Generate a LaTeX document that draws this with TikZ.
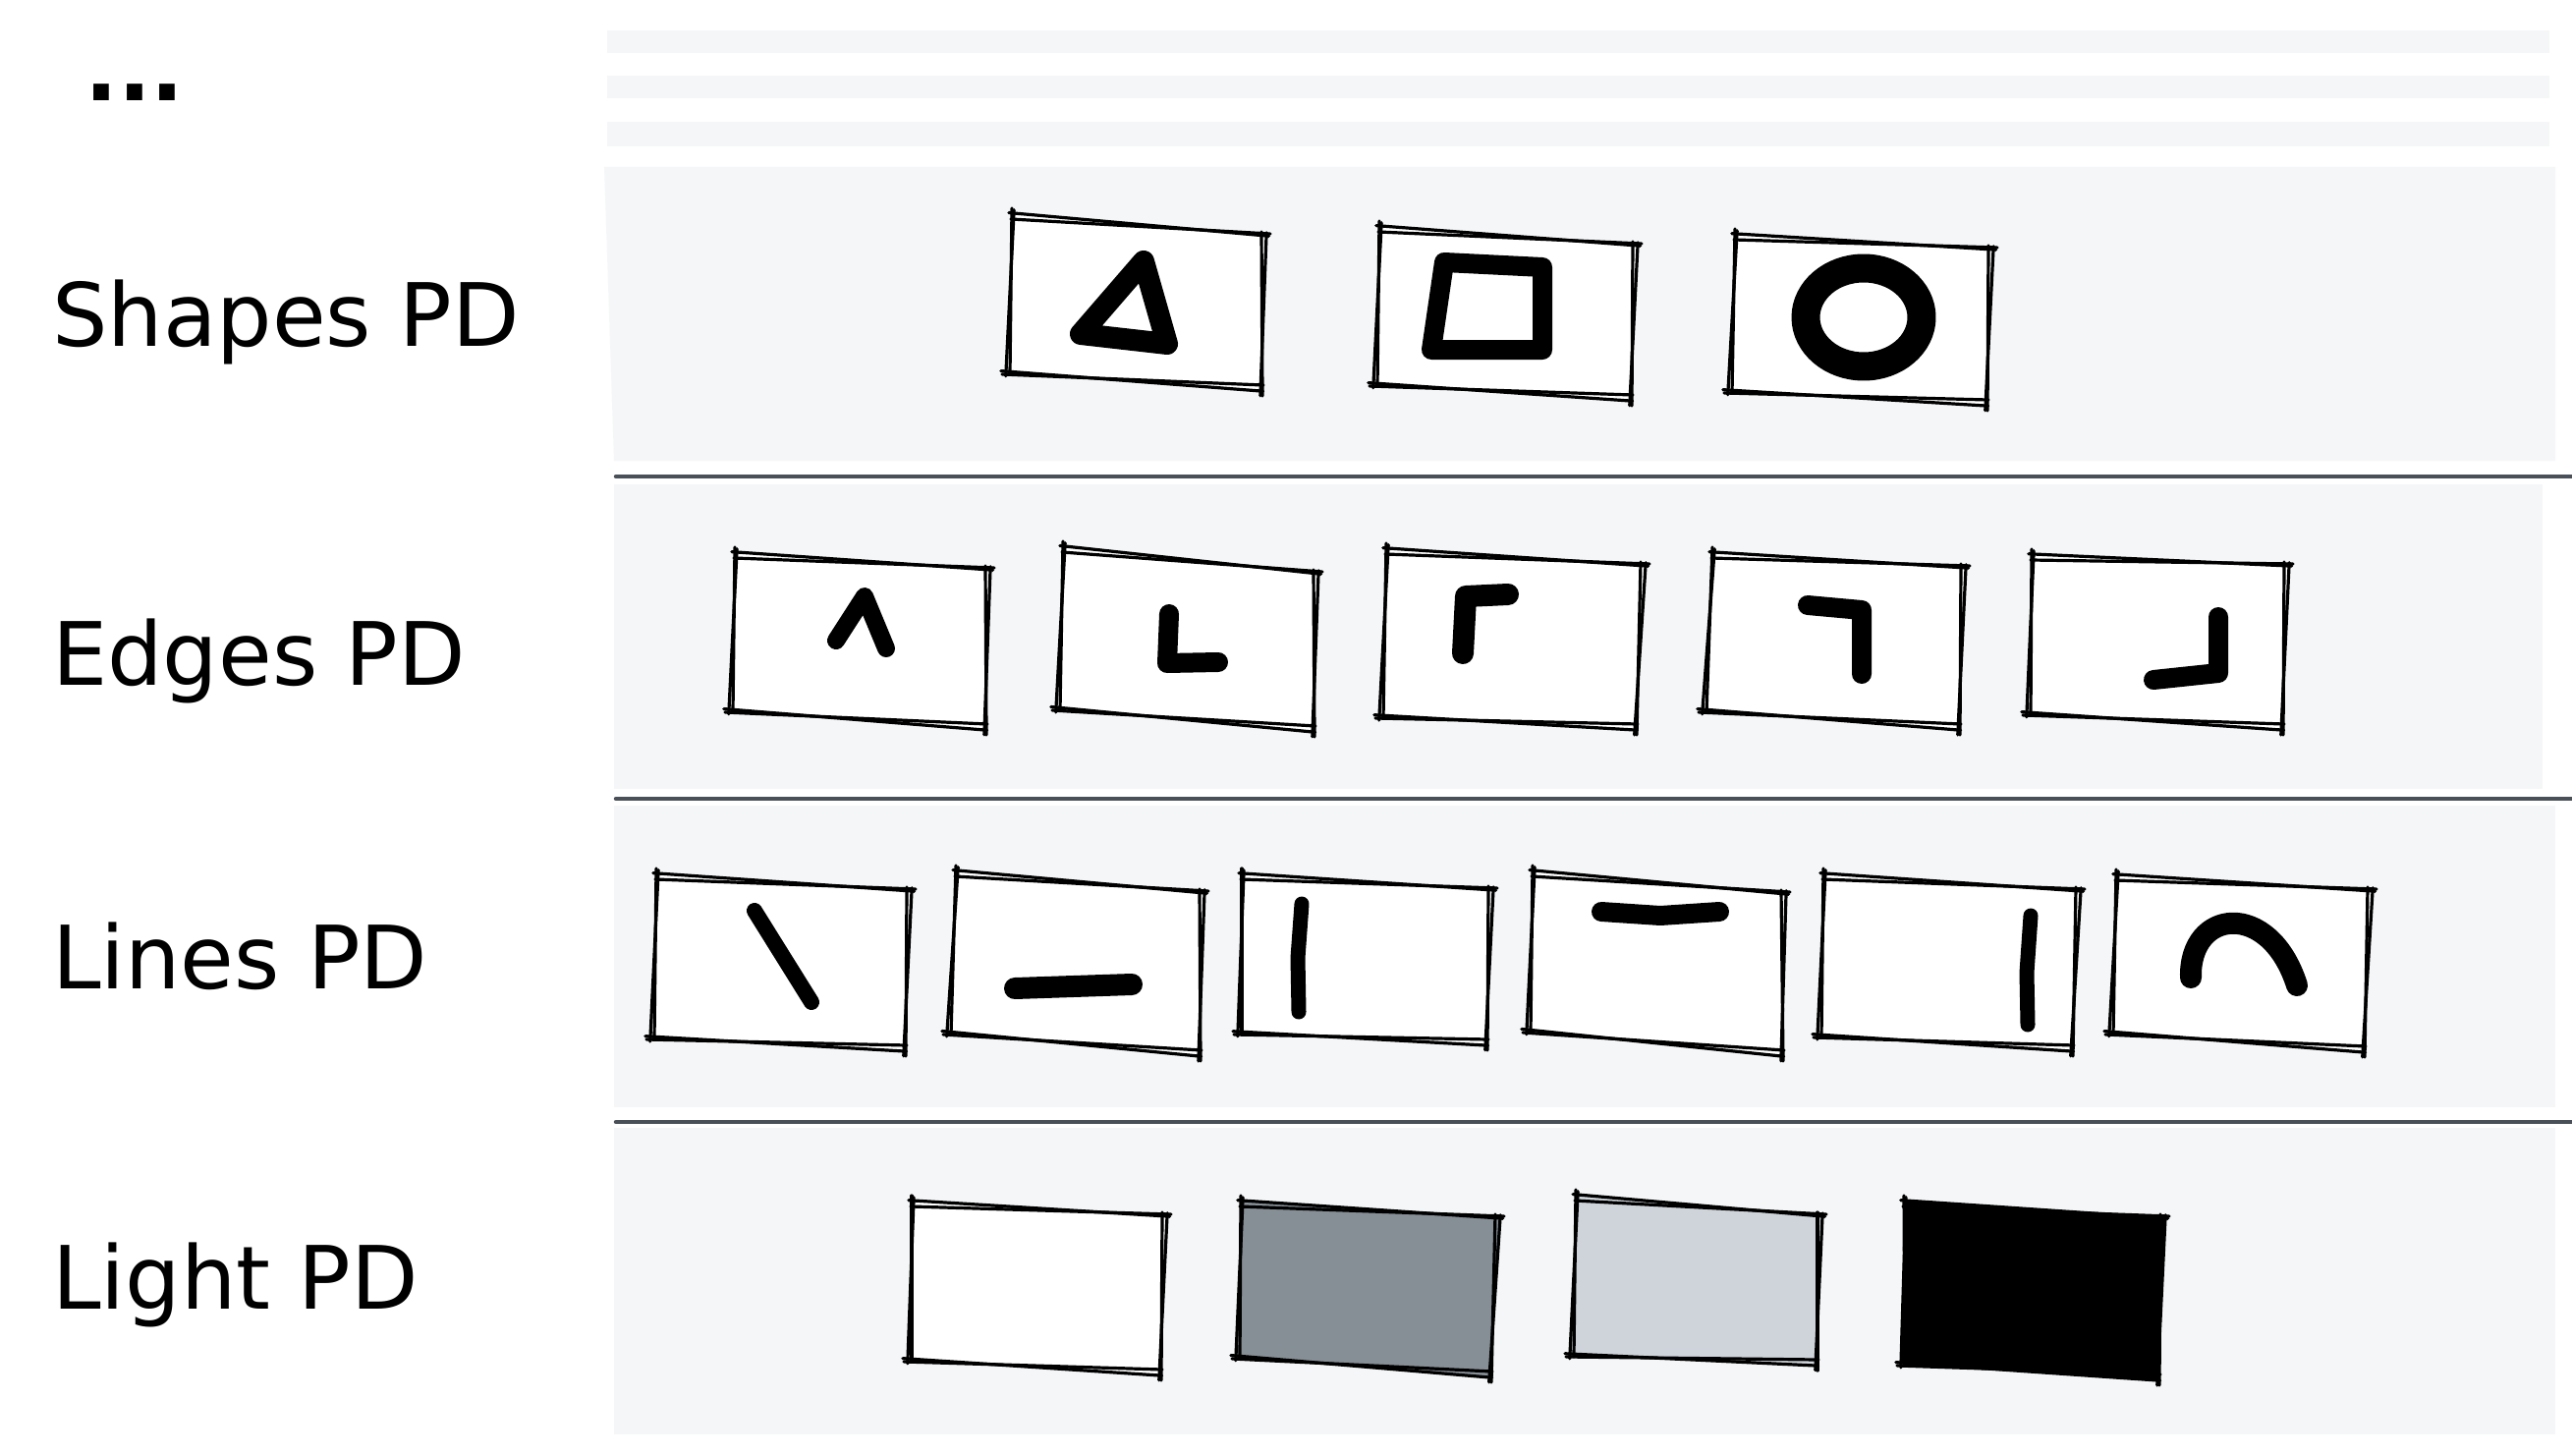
\documentclass[tikz,border=0pt]{standalone}
\usepackage{fontspec}
\newfontfamily\hand{DejaVu Sans}
\usetikzlibrary{calc}
\definecolor{band}{HTML}{F5F6F8}
\definecolor{sep}{HTML}{495057}
\definecolor{gsix}{HTML}{868E96}
\definecolor{gfour}{HTML}{CED4DA}
\tikzset{
  sk/.style={line width=3.2pt, line cap=round, black},
  ink/.style={line width=20pt, line cap=round, line join=round, black},
  lbl/.style={anchor=base west, inner sep=0pt, font=\hand\fontsize{89}{100}\selectfont},
  sepline/.style={line width=4.5pt, sep, line cap=round},
}
\newcommand{\skbox}[5]{%
 \fill[#5] (#1) -- (#2) -- (#3) -- (#4) -- cycle;
 \draw[sk] ($(#1)!-0.02!(#2)$) -- ($(#2)!-0.01!(#1)$);
 \draw[sk] ($(#1)+(-3,6)$) -- ($(#2)+(4,-2)$);
 \draw[sk] ($(#2)!-0.02!(#3)$) -- ($(#3)!-0.03!(#2)$);
 \draw[sk] ($(#2)+(-5,-4)$) -- ($(#3)+(2,5)$);
 \draw[sk] ($(#3)!-0.01!(#4)$) -- ($(#4)!-0.02!(#3)$);
 \draw[sk] ($(#3)+(3,-6)$) -- ($(#4)+(-4,3)$);
 \draw[sk] ($(#4)!-0.03!(#1)$) -- ($(#1)!-0.02!(#4)$);
 \draw[sk] ($(#4)+(4,3)$) -- ($(#1)+(-2,-5)$);
}
\begin{document}
\begin{tikzpicture}[x=1pt,y=-1pt]
\useasboundingbox[fill=white] (0,0) rectangle (2618,1482);
% top bars
\fill[band] (618,31) rectangle (2595,54);
\fill[band] (618,77) rectangle (2595,100);
\fill[band] (618,124) rectangle (2595,149);
% bands
\fill[band] (615,170) -- (2601,170) -- (2601,469) -- (625,469) -- cycle;
\fill[band] (625,493) rectangle (2588,803);
\fill[band] (625,820) rectangle (2601,1127);
\fill[band] (625,1148) rectangle (2601,1460);
% separators
\coordinate (s1a) at (627,485); \coordinate (s1b) at (2630,485);
\coordinate (s2a) at (627,813); \coordinate (s2b) at (2630,813);
\coordinate (s3a) at (627,1142); \coordinate (s3b) at (2630,1142);
\draw[sepline] (s1a) -- (s1b);
\draw[sepline] (s2a) -- (s2b);
\draw[sepline] (s3a) -- (s3b);
% labels
\node[lbl, font=\hand\bfseries\fontsize{89}{100}\selectfont] (dots) at (86,103) {...};
\node[lbl] (shapes) at (53,352) {Shapes PD};
\node[lbl] (edges) at (53,697) {Edges PD};
\node[lbl] (lines) at (53,1006) {Lines PD};
\node[lbl] (light) at (53,1332) {Light PD};
% Shapes row
\skbox{1032,217}{1289,240}{1283,398}{1024,378}{white}
\skbox{1406,230}{1667,250}{1659,408}{1398,390}{white}
\skbox{1768,238}{2029,254}{2021,413}{1759,397}{white}
\draw[ink, line width=22pt] (1164,266) -- (1100,340) -- (1188,350) -- cycle;
\draw[ink] (1470,267) -- (1570,272) -- (1570,356) -- (1457,356) -- cycle;
\draw[ink, line width=29pt] (1897,323) ellipse [x radius=59, y radius=50];
% Edges row
\skbox{750,562}{1008,580}{1002,743}{742,722}{white}
\skbox{1084,556}{1342,584}{1336,745}{1075,720}{white}
\skbox{1413,558}{1675,576}{1664,743}{1404,728}{white}
\skbox{1745,562}{2001,578}{1993,743}{1733,722}{white}
\skbox{2070,564}{2330,576}{2322,743}{2063,725}{white}
\draw[ink, line width=18pt] (851,652) -- (880,607) -- (902,660);
\draw[ink] (1190,625) -- (1188,675) -- (1240,674);
\draw[ink, line width=22pt] (1489,665) -- (1492,607) -- (1535,605);
\draw[ink] (1840,616) -- (1895,621) -- (1895,686);
\draw[ink] (2258,628) -- (2258,685) -- (2192,692);
% Lines row
\skbox{670,889}{928,907}{920,1070}{662,1055}{white}
\skbox{975,886}{1226,909}{1220,1075}{964,1050}{white}
\skbox{1266,889}{1520,906}{1512,1064}{1260,1050}{white}
\skbox{1562,886}{1818,910}{1813,1075}{1554,1048}{white}
\skbox{1858,889}{2118,907}{2108,1070}{1850,1053}{white}
\skbox{2156,890}{2415,907}{2405,1071}{2147,1050}{white}
\draw[ink, line width=16pt] (768,927) -- (826,1020);
\draw[ink, line width=22pt] (1033,1006) -- (1152,1002);
\draw[ink, line width=15pt] (1325,920) -- (1321,975) -- (1322,1030);
\draw[ink] (1630,928) -- (1690,932) -- (1750,928);
\draw[ink, line width=15pt] (2067,932) -- (2063,990) -- (2064,1043);
\draw[ink, line width=22pt] (2230,995) .. controls (2228,925) and (2310,915) .. (2338,1003);
% Light row
\skbox{930,1222}{1188,1238}{1180,1400}{924,1383}{white}
\skbox{1265,1222}{1527,1240}{1516,1402}{1258,1380}{gsix}
\skbox{1606,1216}{1855,1238}{1848,1390}{1598,1378}{gfour}
\skbox{1940,1222}{2204,1240}{2196,1405}{1935,1387}{black}
\end{tikzpicture}
\end{document}
